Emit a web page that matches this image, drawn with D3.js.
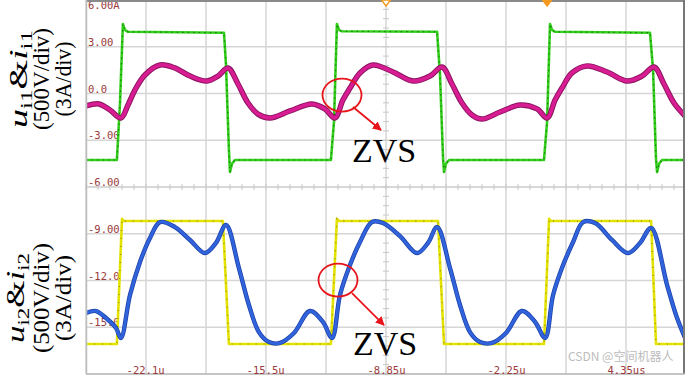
<!DOCTYPE html>
<html>
<head>
<meta charset="utf-8">
<script src="https://cdn.jsdelivr.net/npm/d3@7"></script>
<style>
body { margin: 0; background: #fff; }
svg { display: block; }
</style>
</head>
<body>
<div id="chart"></div>
<script>
var width = 685,
    height = 375;

// time axis in us (3.3us/div, 10 div)
var tStart = -25.35, tEnd = 7.65;
var timeTicks = [-22.1, -15.5, -8.85, -2.25, 4.35];
var timeText = ["-22.1u", "-15.5u", "-8.85u", "-2.25u", "4.35us"];

var topTicks = [6, 3, 0, -3, -6];
var topTickText = ["6.00A", "3.00", "0.0", "-3.00", "-6.00"];
var botTicks = [-9, -12, -15];
var botTickText = ["-9.00", "-12.0", "-15.0"];

// u_i1 (V), green trace  [t(us), V]
var ui1 = [[-25.35, -711], [-23.65, -711], [-23.48, -100], [-23.32, 743], [-23.21, 680], [-23.04, 660],
    [-17.76, 650], [-17.65, 300], [-17.49, -600], [-17.43, -840], [-17.32, -750], [-17.16, -711],
    [-11.88, -711], [-11.71, -300], [-11.55, 743], [-11.44, 680], [-11.27, 665],
    [-6.04, 660], [-5.88, 200], [-5.71, -700], [-5.66, -840], [-5.55, -750], [-5.38, -711],
    [-0.16, -711], [0.01, -300], [0.17, 743], [0.28, 680], [0.45, 660],
    [5.67, 650], [5.84, 250], [6.00, -700], [6.06, -840], [6.17, -750], [6.33, -711], [7.65, -711]];

// i_i1 (A), magenta trace
var ii1 = [[-25.35, -0.80], [-24.64, -0.67], [-24.03, -1.06], [-23.43, -1.57], [-23.04, -0.74], [-22.66, 0.22],
    [-22.11, 1.19], [-21.28, 1.83], [-20.46, 1.64], [-19.63, 1.12], [-18.70, 0.80], [-18.09, 1.12],
    [-17.54, 1.64], [-16.99, 0.61], [-16.44, -0.61], [-15.89, -1.32], [-15.23, -1.57], [-14.13, -1.12],
    [-12.92, -0.67], [-12.21, -0.99], [-11.66, -1.57], [-11.22, -0.42], [-10.83, 0.35], [-10.28, 1.32],
    [-9.57, 1.83], [-8.46, 1.38], [-7.36, 0.80], [-6.43, 1.12], [-5.77, 1.70], [-5.22, 0.61],
    [-4.67, -0.61], [-4.12, -1.38], [-3.57, -1.64], [-2.58, -1.19], [-1.48, -0.74], [-0.54, -0.99],
    [0.01, -1.57], [0.45, -0.42], [0.83, 0.35], [1.38, 1.32], [2.21, 1.77], [3.31, 1.38],
    [4.41, 0.80], [5.23, 1.12], [5.89, 1.70], [6.44, 0.61], [6.99, -0.61], [7.65, -1.51]];

// u_i2 (V), yellow trace
var ui2 = [[-25.35, -679], [-23.65, -679], [-23.37, 660], [-23.26, 636], [-17.82, 636], [-17.49, -679],
    [-11.88, -679], [-11.55, 660], [-11.44, 636], [-5.99, 636], [-5.66, -679],
    [-0.16, -679], [0.12, 660], [0.23, 636], [5.73, 636], [6.00, -679], [7.65, -679]];

// i_i2 (A), blue trace
var ii2 = [[-25.35, -14.09], [-24.80, -13.96], [-24.25, -14.41], [-23.70, -15.05], [-23.43, -15.69],
    [-22.93, -12.93], [-22.38, -10.81], [-21.83, -9.27], [-21.28, -8.25], [-20.46, -8.57], [-19.63, -9.40],
    [-18.81, -10.24], [-18.20, -9.59], [-17.65, -8.44], [-16.94, -11.20], [-16.39, -13.57], [-15.84, -15.31],
    [-15.29, -15.95], [-14.68, -16.01], [-13.91, -15.37], [-13.03, -13.96], [-12.32, -14.66], [-11.82, -15.69],
    [-11.38, -12.93], [-10.83, -11.01], [-10.28, -9.53], [-9.62, -8.25], [-9.02, -8.31], [-8.08, -9.15],
    [-7.14, -10.24], [-6.54, -9.59], [-6.04, -8.57], [-5.33, -11.20], [-4.78, -13.57], [-4.23, -15.31],
    [-3.68, -15.95], [-3.02, -16.01], [-2.25, -15.37], [-1.37, -13.96], [-0.65, -14.66], [-0.10, -15.69],
    [0.34, -12.93], [0.89, -11.01], [1.44, -9.53], [1.99, -8.25], [2.65, -8.31], [3.58, -9.40],
    [4.46, -10.24], [5.12, -9.59], [5.73, -8.63], [6.61, -12.29], [7.16, -14.41], [7.65, -15.82]];

var triggers = [-8.85, 0.01];
// ZVS circles: [t, current]
var zvsTop = [-11.27, -0.1];
var zvsBot = [-11.49, -11.97];

var x = d3.scaleLinear().domain([tStart, tEnd]).range([86, 686]);

var panels = [
    { y0: 0, y1: 187, idom: [-6, 6], volt: ui1, cur: ii1, vcol: "#33cf1c", vdark: "#1c7f10", ccol: "#d81c92", cdark: "#8a1460",
      ticks: topTicks, tickText: topTickText, zvs: zvsTop, tdx: 10, tdy: 67, a: [11, 12, 39, 35],
      lab: ["u", "i1", "i", "i1"], labY: 79, l1: -14, labLen: [98, 102, 75] },
    { y0: 187, y1: 374, idom: [-18, -6], volt: ui2, cur: ii2, vcol: "#e4e200", vdark: "#8c8a14", ccol: "#3063dc", cdark: "#1d42a8",
      ticks: botTicks, tickText: botTickText, zvs: zvsBot, tdx: 15, tdy: 75, a: [14, 13, 46, 45],
      lab: ["u", "i2", "i", "i2"], labY: 298, l1: -17, labLen: [90, 110, 86] }
];

var svg = d3.select("#chart").append("svg")
    .attr("width", width)
    .attr("height", height);

var defs = svg.append("defs");
defs.append("marker")
    .attr("id", "arr")
    .attr("viewBox", "0 0 10 10")
    .attr("refX", 9).attr("refY", 5)
    .attr("markerWidth", 5).attr("markerHeight", 5)
    .attr("markerUnits", "strokeWidth")
    .attr("orient", "auto")
    .append("path")
    .attr("d", "M0,0L10,5L0,10z")
    .attr("fill", "#e8141c");

var gridT = d3.range(11).map(function (i) { return tStart + 3.3 * i; });

panels.forEach(function (p, k) {
    var yI = d3.scaleLinear().domain(p.idom).range([p.y1, p.y0]);
    var yV = d3.scaleLinear().domain([-1000, 1000]).range([p.y1, p.y0]);
    var g = svg.append("g");

    defs.append("clipPath").attr("id", "clip" + k)
        .append("rect").attr("x", 86).attr("y", p.y0).attr("width", 600).attr("height", p.y1 - p.y0);

    // grid
    g.selectAll(".vg").data(gridT).enter().append("line")
        .attr("x1", function (d) { return x(d); }).attr("x2", function (d) { return x(d); })
        .attr("y1", p.y0).attr("y2", p.y1)
        .attr("stroke", "#d6d6d6").attr("stroke-width", 1.5);
    g.selectAll(".hg").data(d3.range(p.idom[0], p.idom[1] + 1, 3)).enter().append("line")
        .attr("x1", 86).attr("x2", 686)
        .attr("y1", function (d) { return yI(d); }).attr("y2", function (d) { return yI(d); })
        .attr("stroke", "#d6d6d6").attr("stroke-width", 1.5);

    // minor ticks on center vertical
    g.selectAll(".mt").data(d3.range(p.idom[0], p.idom[1] + 0.01, 0.6)).enter().append("line")
        .attr("x1", x(-8.85) - 3).attr("x2", x(-8.85) + 3)
        .attr("y1", function (d) { return yI(d); }).attr("y2", function (d) { return yI(d); })
        .attr("stroke", "#c8c8c8").attr("stroke-width", 1);

    // y labels
    g.selectAll(".yl").data(p.ticks).enter().append("text")
        .attr("x", 88)
        .attr("y", function (d, i) { return yI(d) + (d == 6 ? 6 : -4); })
        .attr("dominant-baseline", "middle")
        .style("font-family", "'DejaVu Sans Mono', monospace")
        .style("font-size", "10.5px")
        .attr("fill", "#9a3a3a")
        .text(function (d, i) { return p.tickText[i]; });

    var lineI = d3.line().x(function (d) { return x(d[0]); }).y(function (d) { return yI(d[1]); })
        .curve(d3.curveCatmullRom.alpha(0.5));
    var lineV = d3.line().x(function (d) { return x(d[0]); }).y(function (d) { return yV(d[1]); });

    var tr = g.append("g").attr("clip-path", "url(#clip" + k + ")");
    tr.append("path").datum(p.volt).attr("d", lineV).attr("fill", "none")
        .attr("stroke", p.vcol).attr("stroke-width", 2.6).attr("stroke-linejoin", "round");
    tr.append("path").datum(p.volt).attr("d", lineV).attr("fill", "none")
        .attr("stroke", p.vdark).attr("stroke-width", 1.2).attr("stroke-dasharray", k == 0 ? "1.5,4" : "1,7");
    tr.append("path").datum(p.cur).attr("d", lineI).attr("fill", "none")
        .attr("stroke", p.cdark).attr("stroke-width", k == 0 ? 5.5 : 4.4);
    tr.append("path").datum(p.cur).attr("d", lineI).attr("fill", "none")
        .attr("stroke", p.ccol).attr("stroke-width", k == 0 ? 3.6 : 2.9);

    // ZVS annotation
    var cx = x(p.zvs[0]), cy = yI(p.zvs[1]);
    svg.append("ellipse").attr("cx", cx).attr("cy", cy).attr("rx", 19.5).attr("ry", 16.5)
        .attr("fill", "none").attr("stroke", "#e8141c").attr("stroke-width", 1.8);
    svg.append("line")
        .attr("x1", cx + p.a[0]).attr("y1", cy + p.a[1])
        .attr("x2", cx + p.a[2]).attr("y2", cy + p.a[3])
        .attr("stroke", "#e8141c").attr("stroke-width", 1.8)
        .attr("marker-end", "url(#arr)");
    svg.append("text")
        .attr("x", cx + p.tdx).attr("y", cy + p.tdy)
        .style("font-family", "'Liberation Serif', serif")
        .style("font-size", "34px")
        .attr("fill", "#000")
        .text("ZVS");

    // left label, rotated
    var lg = svg.append("g").attr("transform", "translate(41," + p.labY + ") rotate(-90)");
    var t1 = lg.append("text").attr("x", 0).attr("y", p.l1)
        .attr("text-anchor", "middle")
        .attr("textLength", p.labLen[0]).attr("lengthAdjust", "spacingAndGlyphs")
        .style("font-family", "'Liberation Serif', serif").style("font-size", "26px");
    t1.append("tspan").style("font-style", "italic").text(p.lab[0]);
    t1.append("tspan").attr("dy", 5).style("font-size", "17px").text(p.lab[1]);
    t1.append("tspan").attr("dy", -5).text("&");
    t1.append("tspan").style("font-style", "italic").text(p.lab[2]);
    t1.append("tspan").attr("dy", 5).style("font-size", "17px").text(p.lab[3]);
    lg.append("text").attr("x", 0).attr("y", 8)
        .attr("text-anchor", "middle")
        .attr("textLength", p.labLen[1]).attr("lengthAdjust", "spacingAndGlyphs")
        .style("font-family", "'Liberation Serif', serif").style("font-size", "23px")
        .text("(500V/div)");
    lg.append("text").attr("x", 0).attr("y", 30)
        .attr("text-anchor", "middle")
        .attr("textLength", p.labLen[2]).attr("lengthAdjust", "spacingAndGlyphs")
        .style("font-family", "'Liberation Serif', serif").style("font-size", "23px")
        .text("(3A/div)");
});

// minor ticks on line between panels
svg.append("g").selectAll("line").data(d3.range(tStart, tEnd, 0.66)).enter().append("line")
    .attr("x1", function (d) { return x(d); }).attr("x2", function (d) { return x(d); })
    .attr("y1", 184).attr("y2", 190)
    .attr("stroke", "#c8c8c8").attr("stroke-width", 1);

// borders
svg.append("line").attr("x1", 86).attr("x2", 685).attr("y1", 1).attr("y2", 1)
    .attr("stroke", "#8a8a8a").attr("stroke-width", 2);
svg.append("line").attr("x1", 86.5).attr("x2", 86.5).attr("y1", 0).attr("y2", 374)
    .attr("stroke", "#bdbdbd").attr("stroke-width", 1.5);
svg.append("line").attr("x1", 684).attr("x2", 684).attr("y1", 0).attr("y2", 374)
    .attr("stroke", "#777").attr("stroke-width", 2);
svg.append("line").attr("x1", 86).attr("x2", 685).attr("y1", 374).attr("y2", 374)
    .attr("stroke", "#bdbdbd").attr("stroke-width", 1.5);

// time labels
var xAxis = d3.axisBottom(x).tickValues(timeTicks).tickSize(0)
    .tickFormat(function (d, i) { return timeText[i]; });
var ax = svg.append("g").attr("transform", "translate(0,364)").call(xAxis);
ax.select(".domain").remove();
ax.selectAll("text")
    .style("font-family", "'DejaVu Sans Mono', monospace")
    .style("font-size", "10.5px")
    .attr("fill", "#9a3a3a");

// trigger markers
svg.selectAll(".trg").data(triggers).enter().append("path")
    .attr("d", function (d, i) {
        var cx = x(d);
        return "M" + (cx - 4.5) + ",0L" + (cx + 4.5) + ",0L" + cx + ",6Z";
    })
    .attr("fill", function (d, i) { return i == 0 ? "#fff" : "#f39a1e"; })
    .attr("stroke", "#f39a1e").attr("stroke-width", 1.4);

// watermark
svg.append("text")
    .attr("x", 568).attr("y", 361)
    .style("font-family", "'Noto Sans CJK SC', sans-serif")
    .style("font-size", "12px")
    .attr("fill", "#bcbcbc")
    .text("CSDN @空间机器人");
</script>
</body>
</html>
